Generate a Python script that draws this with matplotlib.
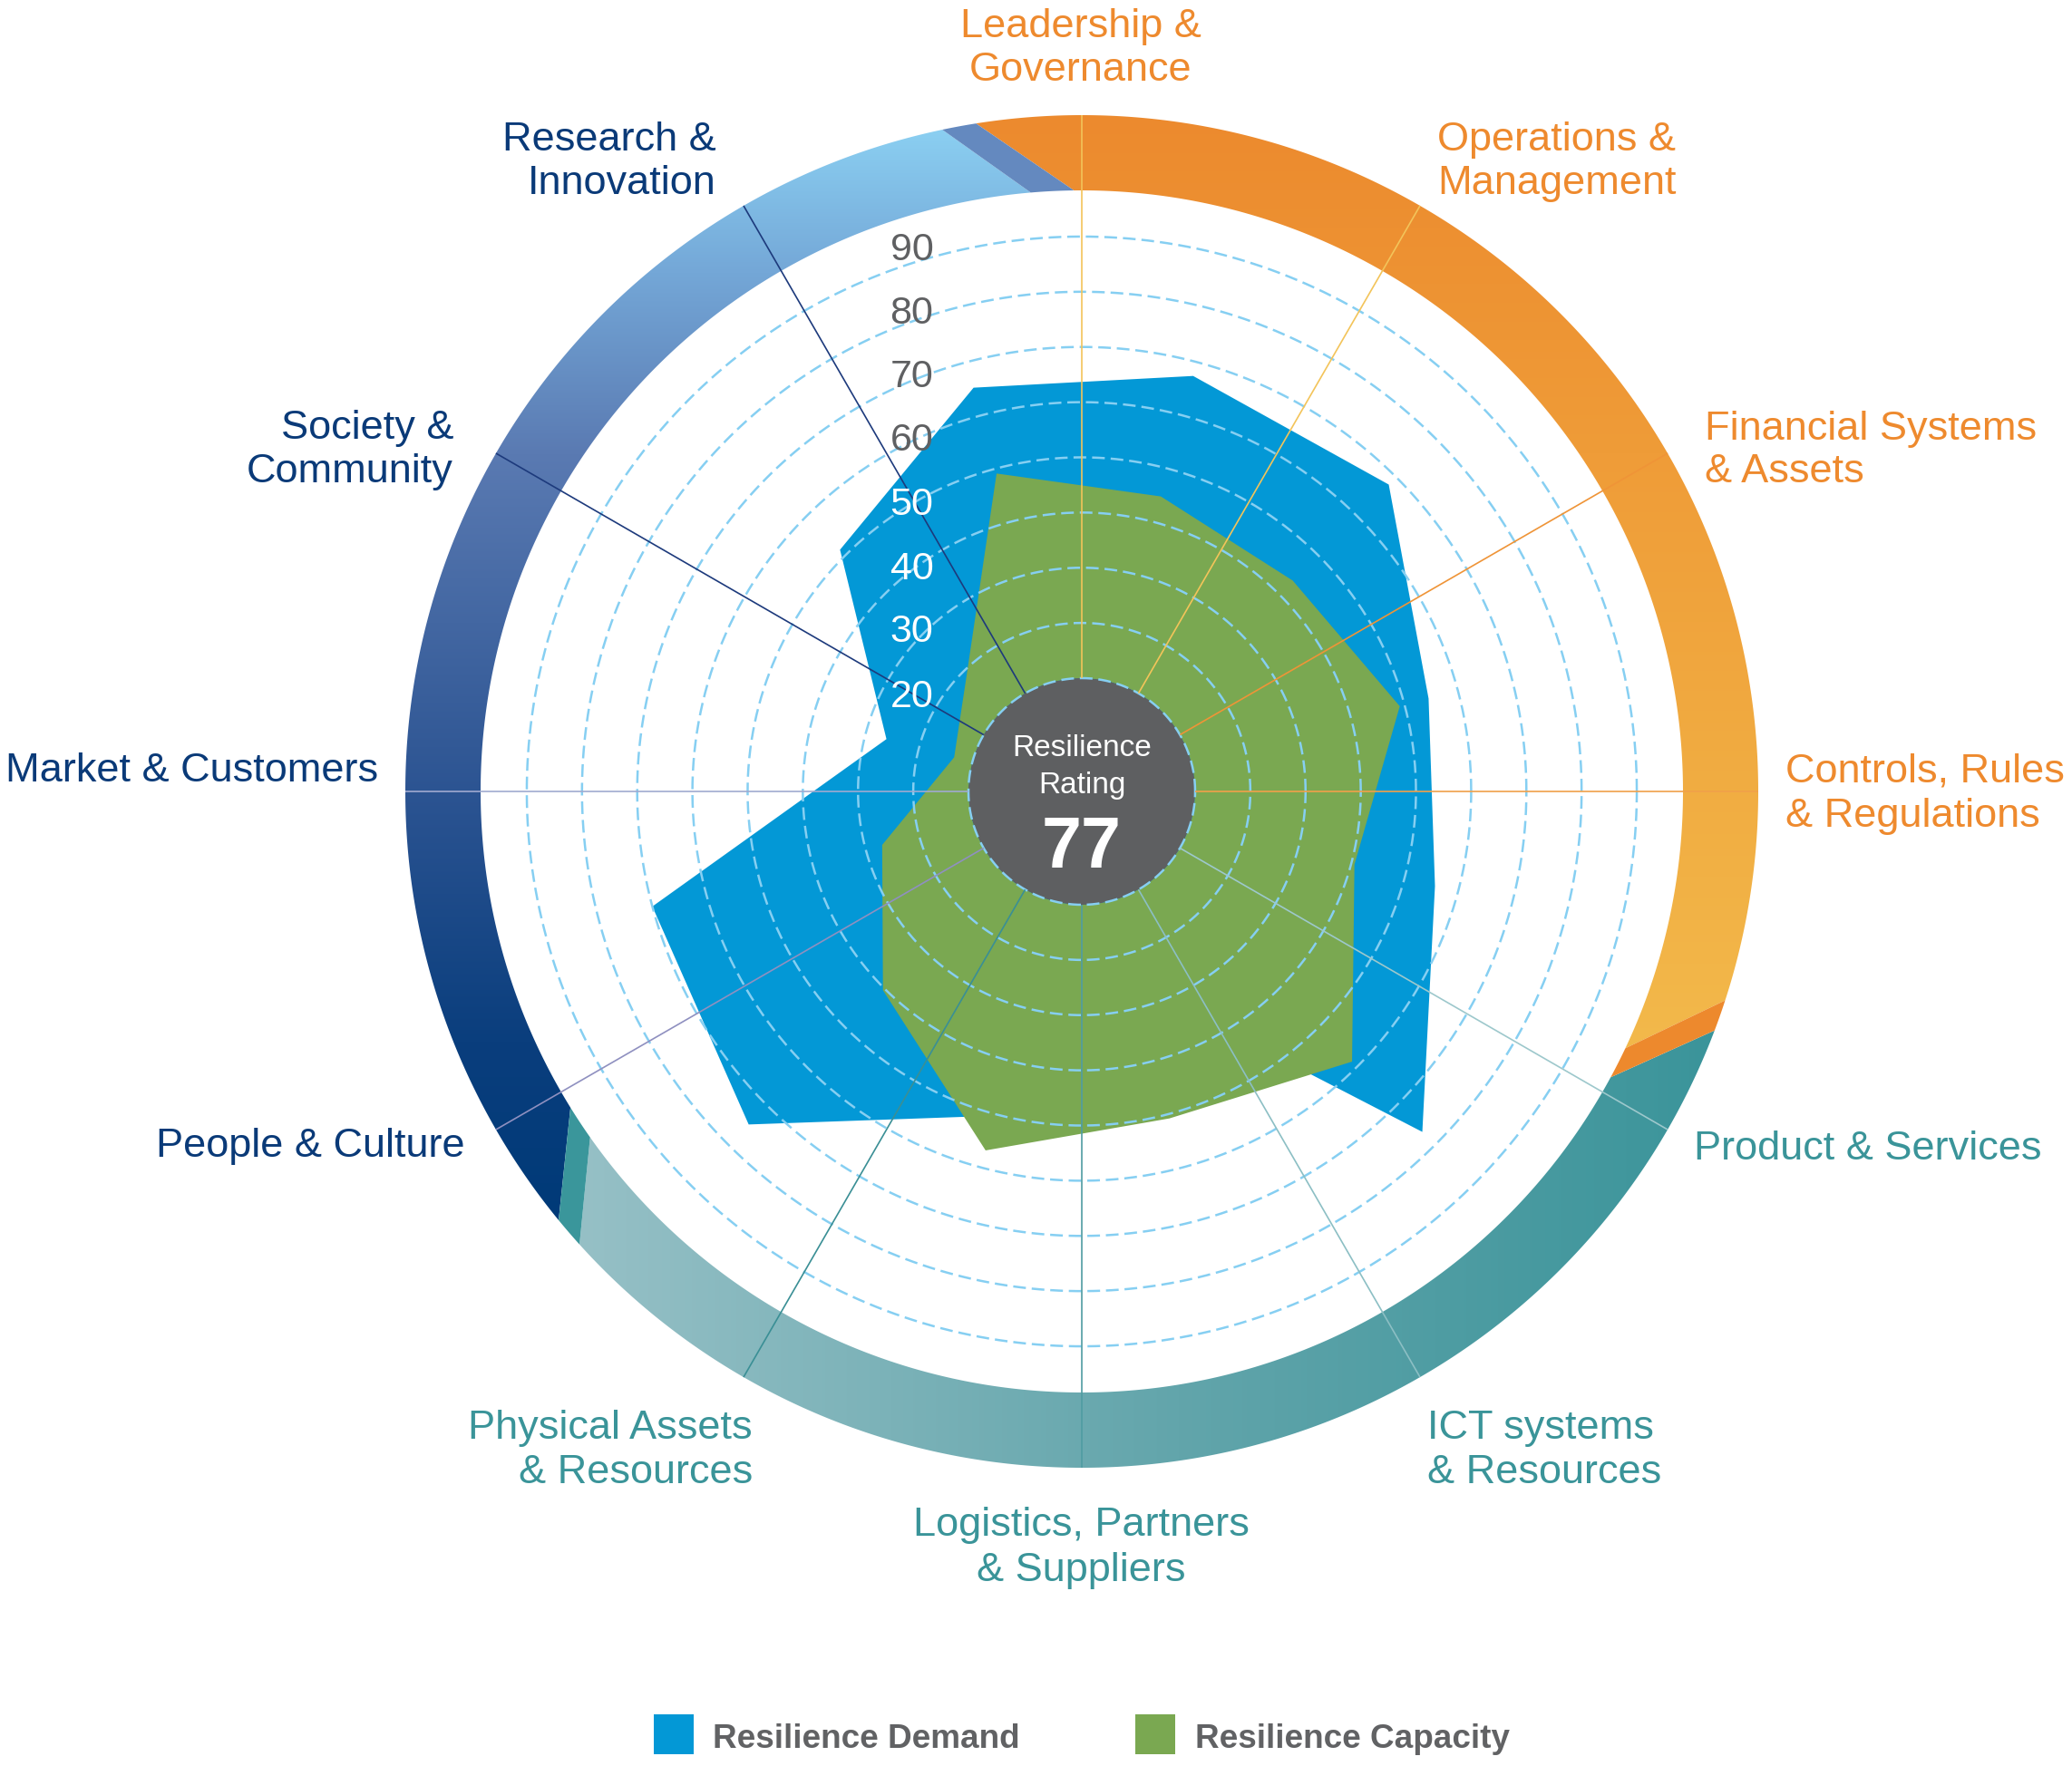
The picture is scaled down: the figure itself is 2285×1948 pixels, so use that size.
import numpy as np
import matplotlib
matplotlib.use("Agg")
import matplotlib.pyplot as plt
from matplotlib.patches import Polygon, Circle, Rectangle

plt.rcParams["font.family"] = ["Liberation Sans", "DejaVu Sans"]

# ---- data ----
categories = ["Leadership &\nGovernance", "Operations &\nManagement", "Financial Systems\n& Assets",
              "Controls, Rules\n& Regulations", "Product & Services", "ICT systems\n& Resources",
              "Logistics, Partners\n& Suppliers", "Physical Assets\n& Resources", "People & Culture",
              "Market & Customers", "Society &\nCommunity", "Research &\nInnovation"]
demand = [67.4, 68.1, 54.5, 55.7, 76.7, 25.3, 50.3, 74.8, 70.0, 26.1, 51.4, 65.2]
capacity = [44.8, 43.5, 49.1, 40.6, 58.7, 50.8, 56.8, 40.4, 26.9, 13.4, 19.0, 49.1]
series_names = ["Resilience Demand", "Resilience Capacity"]
rating = 77
grid_levels = [10, 20, 30, 40, 50, 60, 70, 80, 90]
scale_labels = ["20", "30", "40", "50", "60", "70", "80", "90"]

# ---- layout (pixels) ----
W, H = 2285, 1948
CX, CY = 1193, 873
R_HOLE, R_RING_IN, R_RING_OUT = 125, 663, 746
R_MIN, R_MAX = 10, 112
px_per_unit = (R_RING_OUT - R_HOLE) / (R_MAX - R_MIN)
r_origin = R_MIN - R_HOLE / px_per_unit

BLUE = "#0398D6"
GREEN = "#7AA851"
ORANGE_TXT = "#EE8A2E"
TEAL_TXT = "#3A9499"
NAVY_TXT = "#0A3A78"

fig = plt.figure(figsize=(W / 100, H / 100), dpi=100)
bg = fig.add_axes([0, 0, 1, 1], zorder=0)


def hex_rgb(h):
    return [int(h[i:i + 2], 16) / 255 for i in (1, 3, 5)]


def ring_poly(out_a, out_b, in_a, in_b):
    to = np.deg2rad(np.linspace(out_a, out_b, 300))
    ti = np.deg2rad(np.linspace(in_b, in_a, 300))
    xs = np.r_[CX + R_RING_OUT * np.cos(to), CX + R_RING_IN * np.cos(ti)]
    ys = np.r_[CY - R_RING_OUT * np.sin(to), CY - R_RING_IN * np.sin(ti)]
    return np.column_stack([xs, ys])


def paint(poly, axis, stops):
    p = Polygon(poly, closed=True, fc="none", ec="none")
    bg.add_patch(p)
    x0, y0 = poly.min(0)
    x1, y1 = poly.max(0)
    t = np.linspace(y0, y1, 400) if axis == "y" else np.linspace(x0, x1, 400)
    pos = [s[0] for s in stops]
    cols = np.array([hex_rgb(s[1]) for s in stops])
    rgb = np.column_stack([np.interp(t, pos, cols[:, k]) for k in range(3)])
    if axis == "y":
        img = np.repeat(rgb[:, None, :], 2, axis=1)
    else:
        img = np.repeat(rgb[None, :, :], 2, axis=0)
    im = bg.imshow(img, extent=(x0, x1, y1, y0), origin="upper", aspect="auto",
                   interpolation="bilinear", zorder=1)
    im.set_clip_path(p)


# outer ring, three groups with slanted joins
paint(ring_poly(99.0, -18.0, 90.75, -25.3), "y",
      [(127, "#EC8A2E"), (500, "#EF9C38"), (873, "#F1AD42"), (1160, "#F3B94B")])
paint(ring_poly(-20.7, -137.95, -28.4, -144.87), "x",
      [(640, "#96C0C6"), (1300, "#62A5AB"), (1900, "#3A949A")])
paint(ring_poly(-140.66, -258.1, -148.27, -265.13), "y",
      [(127, "#8DD3F4"), (300, "#74A7D7"), (500, "#5A7AB2"), (873, "#2C5492"),
       (1150, "#0A3E7D"), (1346, "#003A78")])
bg.add_patch(Polygon(ring_poly(-18.0, -20.7, -25.3, -28.4), closed=True, fc="#ED892D", ec="none", zorder=2))
bg.add_patch(Polygon(ring_poly(-137.95, -140.66, -144.87, -148.27), closed=True, fc="#3A969B", ec="none", zorder=2))
bg.add_patch(Polygon(ring_poly(101.9, 99.0, 94.87, 90.75), closed=True, fc="#6489BF", ec="none", zorder=2))

# centre disc
bg.add_patch(Circle((CX, CY), R_HOLE + 0.5, fc="#5E5F61", ec="none", zorder=2))

# legend squares
bg.add_patch(Rectangle((721, 1891), 44, 44, fc=BLUE, ec="none"))
bg.add_patch(Rectangle((1252, 1891), 44, 44, fc=GREEN, ec="none"))

bg.set_xlim(0, W)
bg.set_ylim(H, 0)
bg.axis("off")

# ---- polar chart ----
ax = fig.add_axes([(CX - R_RING_OUT) / W, (H - CY - R_RING_OUT) / H,
                   2 * R_RING_OUT / W, 2 * R_RING_OUT / H], projection="polar", zorder=1)
ax.set_theta_zero_location("E")
ax.set_ylim(R_MIN, R_MAX)
ax.set_rorigin(r_origin)
ax.patch.set_visible(False)
for sp in ax.spines.values():
    # the inner spine gets switched back on at draw time, so blank its colour too
    sp.set_visible(False)
    sp.set_color("none")
    sp.set_linewidth(0)
ax.set_xticks([])
ax.set_yticks([])
ax.grid(False)

n = len(categories)
cat_ang = 90 - 360 / n * np.arange(n)
vert_ang = np.deg2rad(np.r_[cat_ang - 15, cat_ang[0] - 15])
ax.fill(vert_ang, np.r_[demand, demand[0]], color=BLUE, lw=0, zorder=1)
ax.fill(vert_ang, np.r_[capacity, capacity[0]], color=GREEN, lw=0, zorder=1.1)

# dashed level circles
circ = np.linspace(0, 2 * np.pi, 720)
for lev in grid_levels:
    ax.plot(circ, np.full_like(circ, lev), color="#86CFF2", lw=1.8,
            ls=(0, (5.6, 2.6)), zorder=2.5, clip_on=False)

spoke_colors = ["#F3C45A", "#F3C45A", "#EF9437", "#F0A04A", "#9DC8CC", "#8CBFC4",
                "#4F9CA2", "#3A8F95", "#8F90C0", "#A0AAD0", "#1D3A7C", "#1D3A7C"]
for a, c in zip(cat_ang, spoke_colors):
    ax.plot([np.deg2rad(a)] * 2, [R_MIN, R_MAX], color=c, lw=1.2, zorder=3,
            solid_capstyle="butt", clip_on=False)


# ---- text ----
def put(x, y, s, size, **kw):
    fig.text(x, y, s, transform=bg.transData, fontsize=size, zorder=5, **kw)


LBL = 32.5
em = LBL * 100 / 72
# x, alignment, cap-middle y of each line
label_layout = [(1192, "center", [25, 73]), (1585, "left", [150, 198]),
                (1880, "left", [469, 516]), (1969, "left", [846, 896]),
                (1868, "left", [1263]), (1574, "left", [1571, 1620]),
                (1192, "center", [1678, 1728]), (830, "right", [1571, 1620]),
                (513, "right", [1260]), (417, "right", [846]),
                (500, "right", [468, 516]), (790, "right", [150, 198])]
label_colors = [ORANGE_TXT] * 4 + [TEAL_TXT] * 4 + [NAVY_TXT] * 4
for name, (x, ha, ys), col in zip(categories, label_layout, label_colors):
    for line, y in zip(name.split("\n"), ys):
        put(x, y + 0.358 * em, line, LBL, ha=ha, va="baseline", color=col)

# scale numbers
num_ys = [764.7, 693, 624, 552.7, 482, 412, 342, 271.4]
num_em = 31 * 100 / 72
for s, y in zip(scale_labels, num_ys):
    col = "#5F6062" if int(s) >= 60 else "white"
    put(1005.5, y + 0.358 * num_em, s, 31, ha="center", va="baseline", color=col)

# centre
put(CX, 834, "Resilience", 24, ha="center", va="baseline", color="white")
put(CX, 875.5, "Rating", 24, ha="center", va="baseline", color="white")
put(CX, 957, str(rating), 57, ha="center", va="baseline", color="white", fontweight="bold")

# legend text
put(786, 1928, series_names[0], 26.6, ha="left", va="baseline", color="#616264", fontweight="bold")
put(1318, 1928, series_names[1], 26.6, ha="left", va="baseline", color="#616264", fontweight="bold")

fig.savefig("out.png", dpi=100)
